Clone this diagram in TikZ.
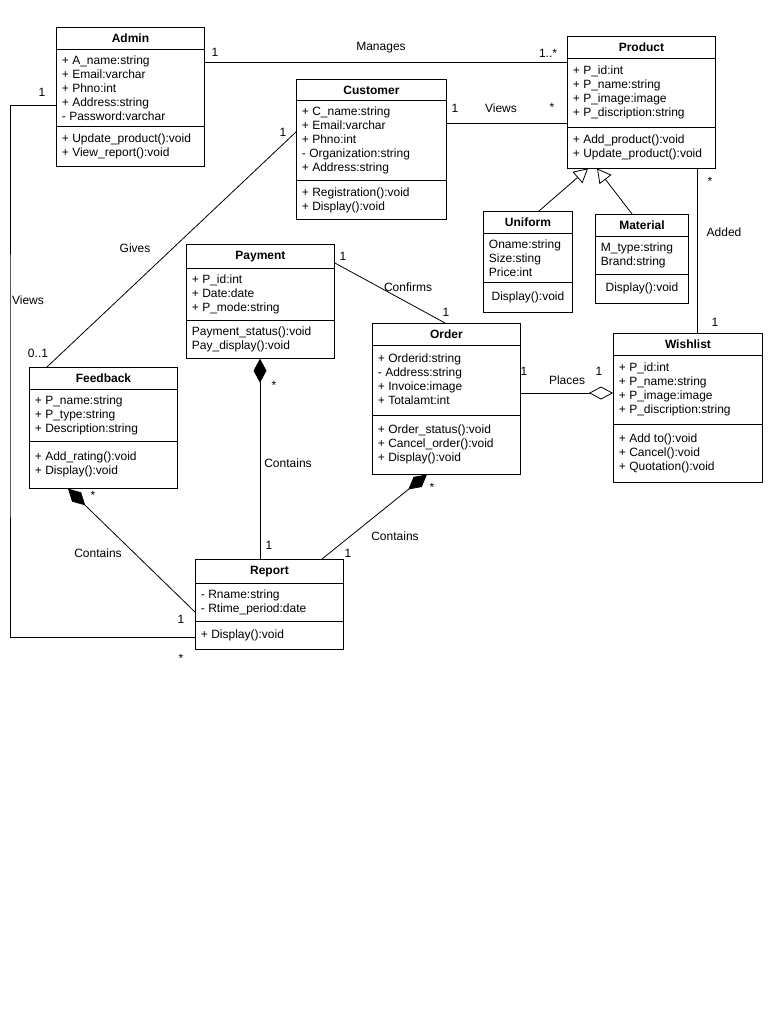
\documentclass[tikz,border=0pt]{standalone}
\usepackage{fontspec}
\setmainfont{Liberation Sans}
\usetikzlibrary{shapes.multipart, arrows.meta}

% more room above the first / below the last line of a compartment
\newcommand{\tp}[1]{\rule{0pt}{#1}}
\newcommand{\pad}[1]{\rule[-#1]{0pt}{#1}}

\tikzset{
  umlclass/.style={draw, line width=0.9pt, rectangle split, rectangle split parts=3, anchor=north west, inner xsep=5.5pt, inner ysep=6pt, align=flush left, font=\fontsize{12}{14}\selectfont},
  lbl/.style={inner sep=0pt, font=\fontsize{12}{14}\selectfont},
  assoc/.style={line width=0.8pt},
  inherit/.style={assoc, -{Triangle[open, length=14pt, width=15pt]}},
  compose/.style={assoc, -{Diamond[length=24pt, width=13pt]}},
  aggregate/.style={assoc, -{Diamond[open, length=24pt, width=13pt]}},
}

\begin{document}
\begin{tikzpicture}[x=1pt, y=-1pt]
    \useasboundingbox (0,0) rectangle (768,1024);

    % Draw the classes
    \node[umlclass, text width=137pt] (admin) at (56,27) {\hfill\textbf{Admin}\hfill\null
        \nodepart{two}+ A\_name:string\\+ Email:varchar\\+ Phno:int\\+ Address:string\\- Password:varchar
        \nodepart{three}\tp{9.5pt}+ Update\_product():void\\+ View\_report():void\pad{3.5pt}};
    \node[umlclass, text width=139pt] (customer) at (296,79) {\hfill\textbf{Customer}\hfill\null
        \nodepart{two}+ C\_name:string\\+ Email:varchar\\+ Phno:int\\- Organization:string\\+ Address:string
        \nodepart{three}\tp{9pt}+ Registration():void\\+ Display():void};
    \node[umlclass, text width=137pt] (product) at (567,36) {\hfill\textbf{Product}\hfill\null
        \nodepart{two}\tp{10pt}+ P\_id:int\\+ P\_name:string\\+ P\_image:image\\+ P\_discription:string\pad{4pt}
        \nodepart{three}\tp{10pt}+ Add\_product():void\\+ Update\_product():void\pad{4pt}};
    \node[umlclass, text width=78pt] (uniform) at (483,211) {\hfill\textbf{Uniform}\hfill\null
        \nodepart{two}Oname:string\\Size:sting\\Price:int
        \nodepart{three}\hfill\tp{11.5pt}Display():void\pad{5.5pt}\hfill\null};
    \node[umlclass, text width=82pt] (material) at (595,214) {\hfill\textbf{Material}\hfill\null
        \nodepart{two}M\_type:string\\Brand:string
        \nodepart{three}\hfill\tp{11pt}Display():void\pad{5pt}\hfill\null};
    \node[umlclass, text width=137pt] (payment) at (186,244) {\hfill\textbf{Payment}\hfill\null
        \nodepart{two}+ P\_id:int\\+ Date:date\\+ P\_mode:string
        \nodepart{three}Payment\_status():void\\Pay\_display():void};
    \node[umlclass, text width=137pt] (order) at (372,323) {\hfill\textbf{Order}\hfill\null
        \nodepart{two}\tp{10.5pt}+ Orderid:string\\- Address:string\\+ Invoice:image\\+ Totalamt:int\pad{4.5pt}
        \nodepart{three}\tp{12pt}+ Order\_status():void\\+ Cancel\_order():void\\+ Display():void\pad{6pt}};
    \node[umlclass, text width=138pt] (wishlist) at (613,333) {\hfill\textbf{Wishlist}\hfill\null
        \nodepart{two}\tp{10pt}+ P\_id:int\\+ P\_name:string\\+ P\_image:image\\+ P\_discription:string\pad{4pt}
        \nodepart{three}\tp{11.5pt}+ Add to():void\\+ Cancel():void\\+ Quotation():void\pad{5.5pt}};
    \node[umlclass, text width=137pt] (feedback) at (29,367) {\hfill\textbf{Feedback}\hfill\null
        \nodepart{two}+ P\_name:string\\+ P\_type:string\\+ Description:string
        \nodepart{three}\tp{13pt}+ Add\_rating():void\\+ Display():void\pad{7pt}};
    \node[umlclass, text width=137pt] (report) at (195,559) {\hfill\textbf{Report}\hfill\null
        \nodepart{two}- Rname:string\\- Rtime\_period:date
        \nodepart{three}\tp{10.5pt}+ Display():void\pad{4.5pt}};

    % Draw connections
    \draw[assoc] (admin.east |- 0,62) -- (product.west |- 0,62);
    \draw[assoc] (customer.east |- 0,123) -- (product.west |- 0,123);
    \draw[assoc] (admin.west |- 0,105) -| (10,400) |- (report.west |- 0,637);
    \draw[assoc] (customer.west |- 0,132) -- (feedback.north -| 47,0);
    \draw[assoc] (payment.east |- 0,263) -- (order.north -| 445,0);
    \draw[inherit] (uniform.north -| 539,0) -- (product.south -| 588,0);
    \draw[inherit] (material.north -| 632,0) -- (product.south -| 597,0);
    \draw[assoc] (product.south -| 697,0) -- (wishlist.north -| 697,0);
    \draw[aggregate] (order.east |- 0,393) -- (wishlist.west |- 0,393);
    \draw[compose] (report.north -| 260,0) -- (payment.south -| 260,0);
    \draw[compose] (report.north -| 322,0) -- (order.south -| 427,0);
    \draw[compose] (report.west |- 0,612) -- (feedback.south -| 68,0);

    % Labels and multiplicities
    \node[lbl] (m1) at (215,52) {1};
    \node[lbl] (manages) at (381,48) {Manages};
    \node[lbl] (m2) at (548,53) {1..*};
    \node[lbl] (m3) at (455,108) {1};
    \node[lbl] (views1) at (501,108) {Views};
    \node[lbl] (m4) at (552,107) {*};
    \node[lbl] (m5) at (42,92) {1};
    \node[lbl] (views2) at (28,300) {Views};
    \node[lbl] (m6) at (283,132) {1};
    \node[lbl] (gives) at (135,248) {Gives};
    \node[lbl] (m7) at (38,353) {0..1};
    \node[lbl] (m8) at (343,256) {1};
    \node[lbl] (confirms) at (408,287) {Confirms};
    \node[lbl] (m9) at (446,312) {1};
    \node[lbl] (m10) at (710,181) {*};
    \node[lbl] (added) at (724,232) {Added};
    \node[lbl] (m11) at (715,322) {1};
    \node[lbl] (m12) at (524,371) {1};
    \node[lbl] (places) at (567,380) {Places};
    \node[lbl] (m13) at (599,371) {1};
    \node[lbl] (m14) at (274,385) {*};
    \node[lbl] (contains1) at (288,463) {Contains};
    \node[lbl] (m15) at (269,545) {1};
    \node[lbl] (m16) at (432,487) {*};
    \node[lbl] (contains2) at (395,536) {Contains};
    \node[lbl] (m17) at (348,553) {1};
    \node[lbl] (m18) at (93,495) {*};
    \node[lbl] (contains3) at (98,553) {Contains};
    \node[lbl] (m19) at (181,619) {1};
    \node[lbl] (m20) at (181,658) {*};

\end{tikzpicture}
\end{document}
